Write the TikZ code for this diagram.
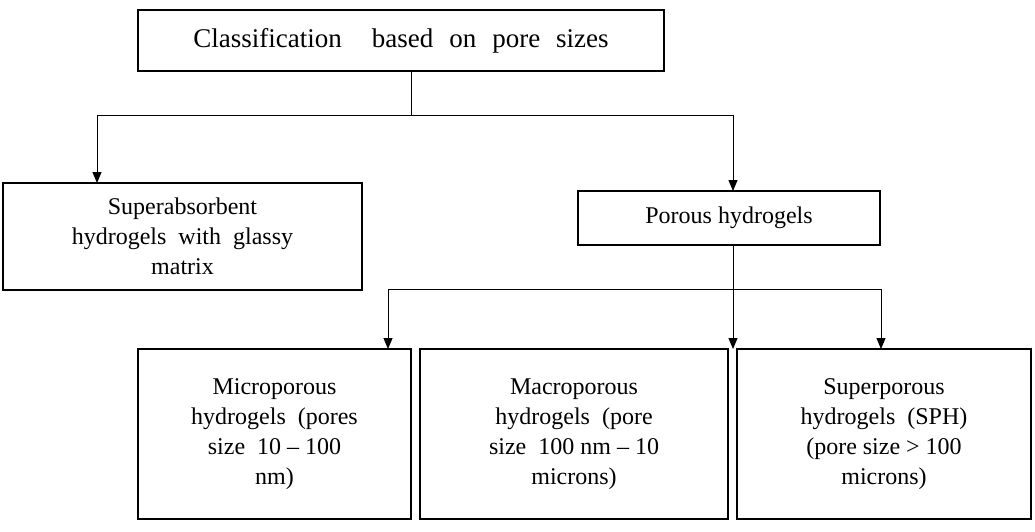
\documentclass[tikz,border=0pt]{standalone}
\usepackage{fontspec}
\setmainfont{Liberation Serif}
\usetikzlibrary{arrows.meta}
\begin{document}
\begin{tikzpicture}[x=1pt,y=-1pt,
  box/.style={draw,line width=1.2pt,align=center,font=\fontsize{24}{30}\selectfont,inner sep=0pt},
  conn/.style={line width=1pt},
  arr/.style={conn,-{Triangle[length=11pt,width=9pt]}}]
\useasboundingbox (0,0) rectangle (1035,531);
\node[box,minimum width=526pt,minimum height=61pt,font=\fontsize{27}{32}\selectfont] (top) at (401,40.5) {Classification\hspace{30pt}based\hspace{16pt}on\hspace{16pt}pore\hspace{16pt}sizes};
\node[box,minimum width=359pt,minimum height=107pt] (sa) at (182.5,236.5) {Superabsorbent\\hydrogels\ \ with\ \ glassy\\matrix};
\node[box,minimum width=302pt,minimum height=54pt] (po) at (729,218) {Porous hydrogels};
\node[box,minimum width=273pt,minimum height=170pt] (mi) at (274.5,434) {Microporous\\hydrogels\ \ (pores\\size\ \ 10 -- 100\\nm)};
\node[box,minimum width=308pt,minimum height=170pt] (ma) at (574,434) {Macroporous\\hydrogels\ \ (pore\\size\ \ 100 nm -- 10\\microns)};
\node[box,minimum width=294pt,minimum height=170pt] (sp) at (884,434) {Superporous\\hydrogels\ \ (SPH)\\(pore size > 100\\microns)};
\coordinate (j1) at (411,115);
\coordinate (j2) at (733,289);
\draw[conn] (top.south -| j1) -- (j1);
\draw[arr] (j1) -- (97,115) -- (97,183);
\draw[arr] (j1) -- (733,115) -- (733,191);
\draw[conn] (733,245) -- (j2);
\draw[arr] (j2) -- (388,289) -- (388,349);
\draw[arr] (j2) -- (881,289) -- (881,349);
\draw[arr] (j2) -- (733,349);
\end{tikzpicture}
\end{document}
